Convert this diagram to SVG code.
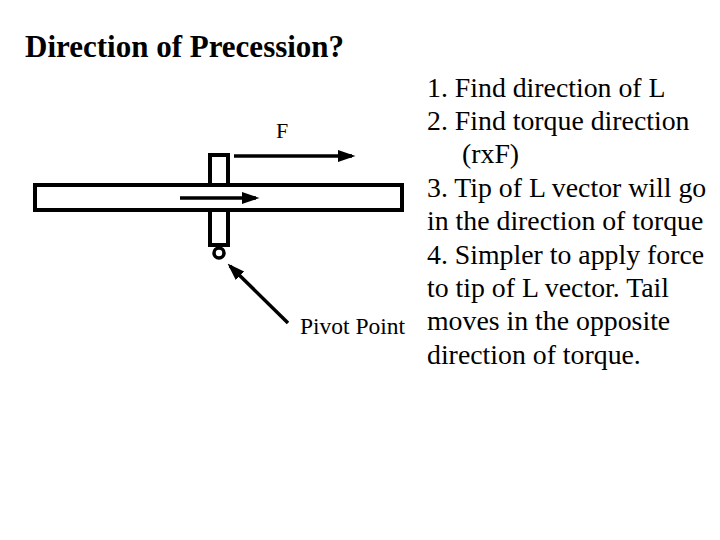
<svg xmlns="http://www.w3.org/2000/svg" width="720" height="540" viewBox="0 0 720 540">
<style>
.t{font-family:"Liberation Serif",serif;fill:#000}
.s{fill:#fff;stroke:#000;stroke-width:4}
.a{stroke:#000;stroke-width:3.5;fill:none}
</style>
<defs><marker id="ah" markerWidth="5" markerHeight="4" refX="4" refY="2" orient="auto" markerUnits="strokeWidth"><path d="M0,0.3 L5,2 L0,3.7 z" fill="#000"/></marker></defs>
<rect width="720" height="540" fill="#fff"/>
<text class="t" x="25" y="57" font-size="31" font-weight="bold">Direction of Precession?</text>
<g id="post"><rect class="s" x="210" y="155" width="18" height="90"/></g>
<g id="bar"><rect class="s" x="35" y="185" width="367" height="25"/></g>
<g id="pivot"><circle cx="219" cy="253" r="5" fill="#fff" stroke="#000" stroke-width="3.5"/></g>
<g id="connectors">
<line class="a" x1="234" y1="156" x2="352" y2="156" marker-end="url(#ah)"/>
<line class="a" x1="180" y1="198" x2="256" y2="198" marker-end="url(#ah)"/>
<line class="a" x1="288" y1="323" x2="230" y2="266" marker-end="url(#ah)"/>
</g>
<text class="t" x="276" y="138" font-size="22">F</text>
<text class="t" x="300" y="334" font-size="23.5">Pivot Point</text>
<g class="t" font-size="27.8">
<text x="427" y="97">1. Find direction of L</text>
<text x="427" y="130">2. Find torque direction</text>
<text x="462" y="163">(rxF)</text>
<text x="427" y="197">3. Tip of L vector will go</text>
<text x="427" y="230">in the direction of torque</text>
<text x="427" y="264">4. Simpler to apply force</text>
<text x="427" y="297">to tip of L vector.  Tail</text>
<text x="427" y="330">moves in the opposite</text>
<text x="427" y="364">direction of torque.</text>
</g>
</svg>
